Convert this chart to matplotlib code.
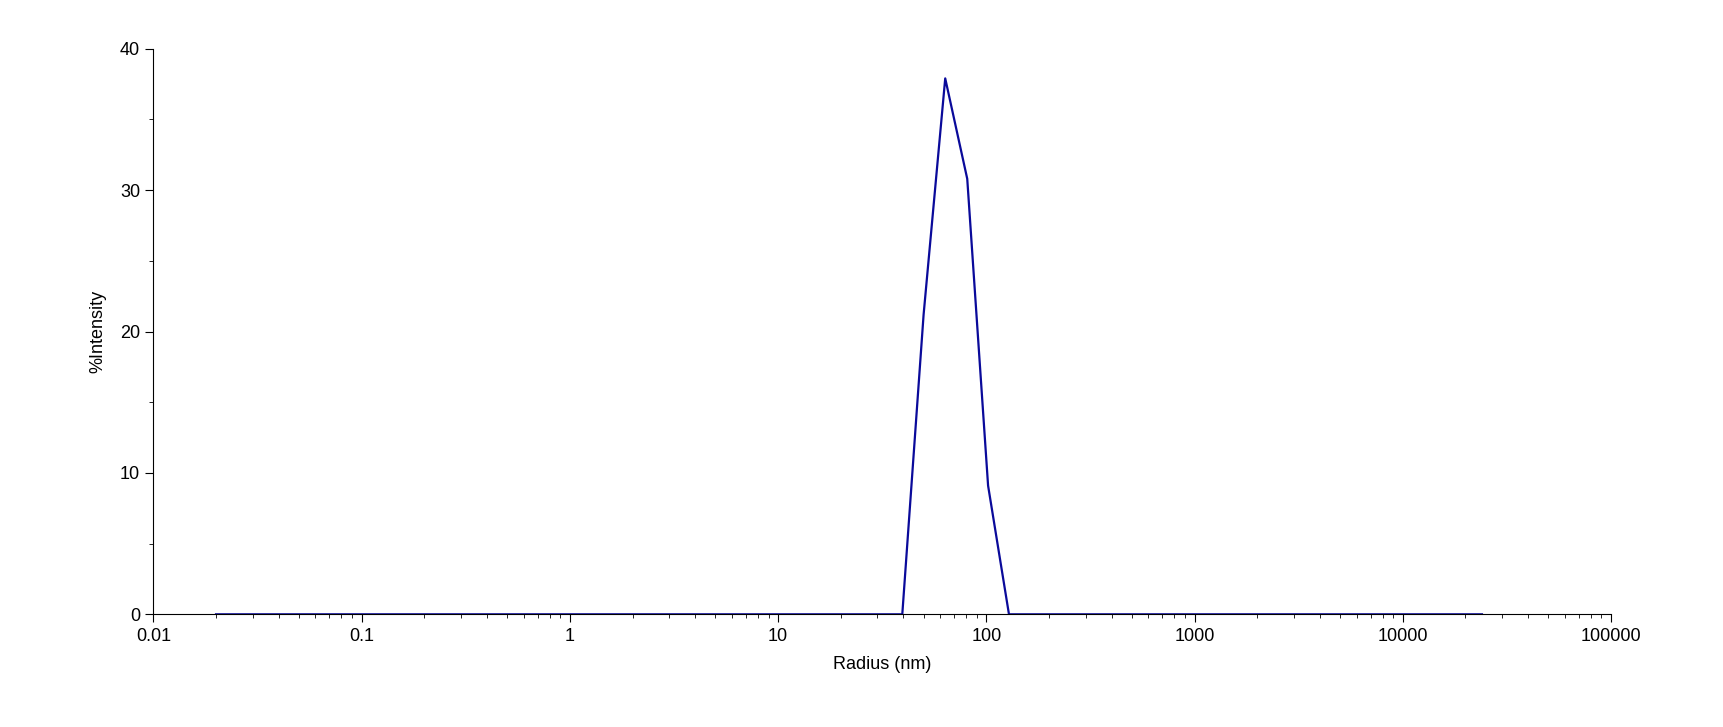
import matplotlib
matplotlib.use("Agg")
import matplotlib.pyplot as plt
from matplotlib.ticker import LogLocator, NullFormatter, FixedLocator

radius = [0.02, 39.5, 50, 63.5, 81, 102, 128.5, 24000]
intensity = [0, 0, 21.2, 37.9, 30.8, 9.1, 0, 0]
xticks = [0.01, 0.1, 1, 10, 100, 1000, 10000, 100000]
xticklabels = ["0.01", "0.1", "1", "10", "100", "1000", "10000", "100000"]

plt.rcParams['font.family'] = ['Liberation Sans', 'DejaVu Sans']
fig = plt.figure(figsize=(17.23, 7.27), dpi=100)
ax = fig.add_axes([0.089, 0.155, 0.846, 0.778])
ax.plot(radius, intensity, color="#0a0a9a", lw=1.6)
ax.set_xscale("log")
ax.set_xlim(0.01, 100000)
ax.set_ylim(0, 40)
ax.set_xticks(xticks)
ax.set_xticklabels(xticklabels)
ax.xaxis.set_minor_locator(LogLocator(base=10, subs=range(2, 10), numticks=100))
ax.xaxis.set_minor_formatter(NullFormatter())
ax.set_yticks([0, 10, 20, 30, 40])
ax.yaxis.set_minor_locator(FixedLocator([5, 15, 25, 35]))
for s in ["top", "right"]:
    ax.spines[s].set_visible(False)
ax.tick_params(axis="both", which="major", length=6, labelsize=13, direction="out")
ax.tick_params(axis="both", which="minor", length=3, direction="out")
ax.set_xlabel("Radius (nm)", fontsize=13, labelpad=8)
ax.set_ylabel("%Intensity", fontsize=13, labelpad=10)
fig.savefig("out.png", dpi=100)
